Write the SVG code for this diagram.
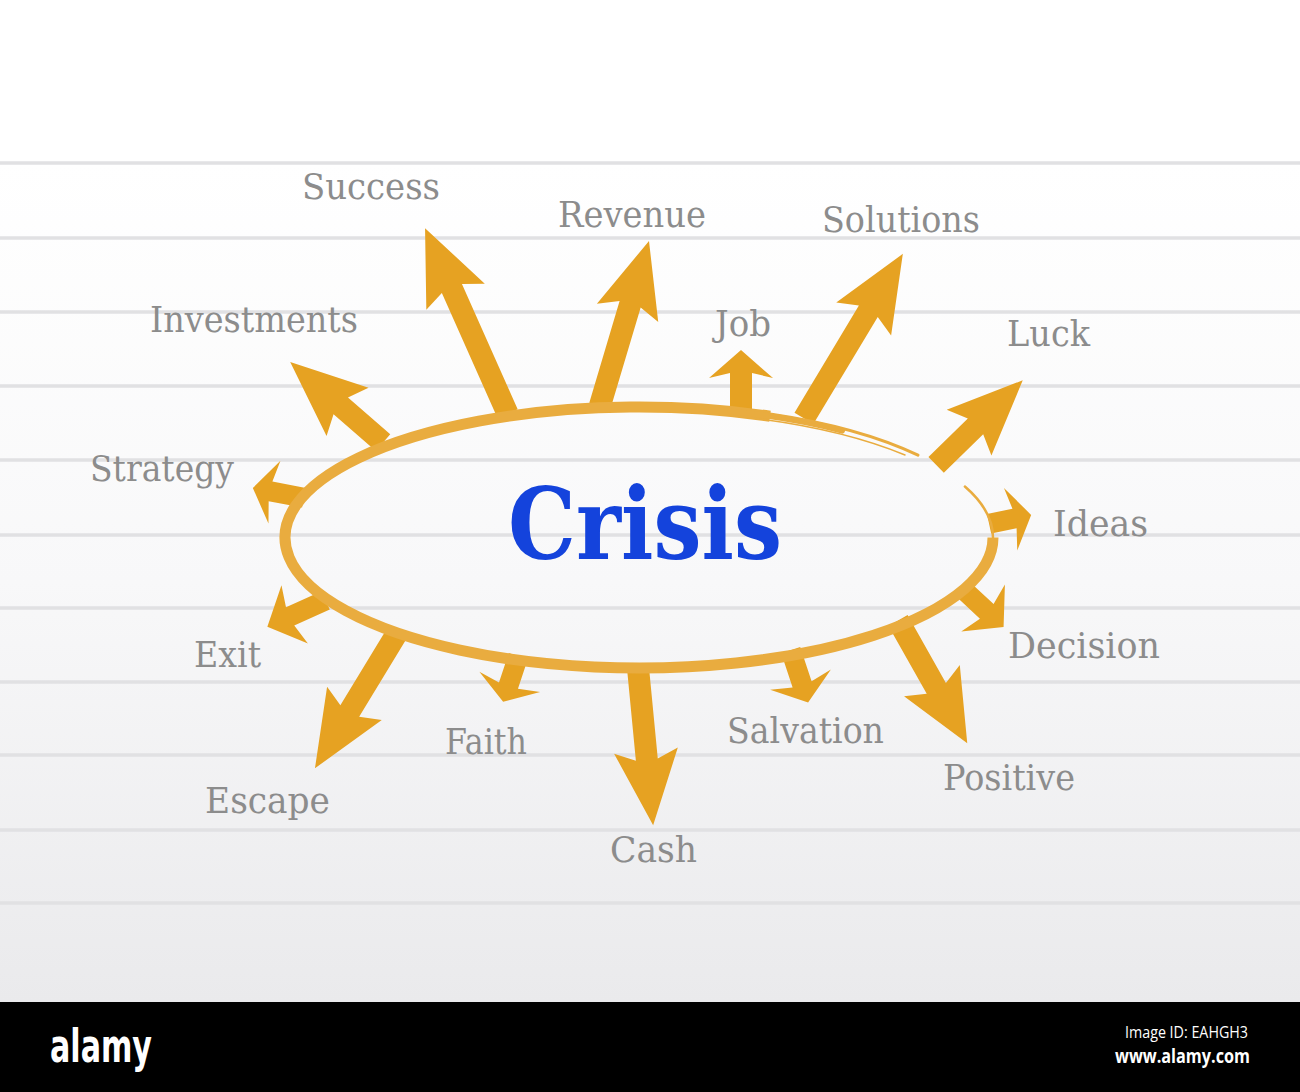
<svg xmlns="http://www.w3.org/2000/svg" width="1300" height="1092" viewBox="0 0 1300 1092">
  <defs>
    <linearGradient id="paper" x1="0" y1="0" x2="0" y2="1">
      <stop offset="0" stop-color="#ffffff"/>
      <stop offset="0.5" stop-color="#f8f8f9"/>
      <stop offset="1" stop-color="#eaeaec"/>
    </linearGradient>
    <style>
      .rule { stroke: #e1e1e3; stroke-width: 3.5; }
      .arrow { fill: #e6a222; }
      .ring { fill: none; stroke: #e9ac3f; stroke-width: 11; }
      .ringThin { fill: none; stroke: #e9ac3f; stroke-linecap: round; }
      .lbl { font-family: "DejaVu Serif", "Liberation Serif", serif; font-size: 35px; fill: #8c8c8c; }
      .title { font-family: "DejaVu Serif", "Liberation Serif", serif; font-weight: bold; font-size: 99px; fill: #1443dc; }
    </style>
  </defs>

  <rect x="0" y="0" width="1300" height="1092" fill="#ffffff"/>
  <rect x="0" y="162" width="1300" height="840" fill="url(#paper)"/>

  <g id="rules">
    <line class="rule" x1="0" y1="163" x2="1300" y2="163"/>
    <line class="rule" x1="0" y1="238" x2="1300" y2="238"/>
    <line class="rule" x1="0" y1="312" x2="1300" y2="312"/>
    <line class="rule" x1="0" y1="386" x2="1300" y2="386"/>
    <line class="rule" x1="0" y1="460" x2="1300" y2="460"/>
    <line class="rule" x1="0" y1="535" x2="1300" y2="535"/>
    <line class="rule" x1="0" y1="608" x2="1300" y2="608"/>
    <line class="rule" x1="0" y1="682" x2="1300" y2="682"/>
    <line class="rule" x1="0" y1="755" x2="1300" y2="755"/>
    <line class="rule" x1="0" y1="830" x2="1300" y2="830"/>
    <line class="rule" x1="0" y1="903" x2="1300" y2="903"/>
  </g>

  <g id="connectors">
    <polygon class="arrow" transform="translate(506,410) rotate(-24)" points="-11,4 -11,-133 -32,-124 0,-199 32,-124 11,-133 11,4"/>
    <polygon class="arrow" transform="translate(601,402) rotate(16.6)" points="-11,4 -11,-102 -32,-93 0,-168 32,-93 11,-102 11,4"/>
    <polygon class="arrow" transform="translate(741,405) rotate(0)" points="-11,4 -11,-32 -32,-27 0,-55 32,-27 11,-32 11,4"/>
    <polygon class="arrow" transform="translate(806,415) rotate(31)" points="-11,4 -11,-121 -32,-112 0,-188 32,-112 11,-121 11,4"/>
    <polygon class="arrow" transform="translate(939,462) rotate(45.7)" points="-11,4 -11,-51 -32,-42 0,-117 32,-42 11,-51 11,4"/>
    <polygon class="arrow" transform="translate(993,523) rotate(78)" points="-10,4 -10,-22 -32,-18 0,-39 32,-18 10,-22 10,4"/>
    <polygon class="arrow" transform="translate(967,593) rotate(133)" points="-10,4 -10,-27 -32,-22 0,-50 32,-22 10,-27 10,4"/>
    <polygon class="arrow" transform="translate(900,624) rotate(150.6)" points="-11,4 -11,-74 -32,-65 0,-137 32,-65 11,-74 11,4"/>
    <polygon class="arrow" transform="translate(792,654) rotate(161.6)" points="-10,4 -10,-32 -32,-27 0,-51 32,-27 10,-32 10,4"/>
    <polygon class="arrow" transform="translate(638,668) rotate(174.5)" points="-11,4 -11,-92 -32,-83 0,-158 32,-83 11,-92 11,4"/>
    <polygon class="arrow" transform="translate(517,660) rotate(198.4)" points="-10,4 -10,-27 -32,-23 0,-44 32,-23 10,-27 10,4"/>
    <polygon class="arrow" transform="translate(396,635) rotate(211.3)" points="-11,4 -11,-89 -32,-80 0,-156 32,-80 11,-89 11,4"/>
    <polygon class="arrow" transform="translate(322,602) rotate(245.6)" points="-10,4 -10,-35 -32,-30 0,-60 32,-30 10,-35 10,4"/>
    <polygon class="arrow" transform="translate(300,497) rotate(-79.2)" points="-10,4 -10,-30 -32,-26 0,-48 32,-26 10,-30 10,4"/>
    <polygon class="arrow" transform="translate(380,440) rotate(-49)" points="-11,4 -11,-52 -32,-43 0,-119 32,-43 11,-52 11,4"/>
  </g>

  <g id="crisis">
    <path class="ring" d="M 993 537.5 A 354 130.5 0 1 1 770 416.3"/>
    <path class="ringThin" stroke-width="6" d="M 730.6 411.4 A 354 130.5 0 0 1 842.1 430.6"/>
    <path class="ringThin" stroke-width="3" d="M 770 414 A 354 130.5 0 0 1 918 455.2"/>
    <path class="ringThin" stroke-width="1.5" d="M 760 419 A 354 130.5 0 0 1 905 455"/>
    <path class="ringThin" stroke-width="2.5" d="M 964.9 486.5 A 354 130.5 0 0 1 993 537.5"/>
    <text class="title" x="508" y="559" textLength="274" lengthAdjust="spacingAndGlyphs">Crisis</text>
  </g>

  <g id="n-success"><text class="lbl" x="302" y="199" textLength="138" lengthAdjust="spacingAndGlyphs">Success</text></g>
  <g id="n-revenue"><text class="lbl" x="558" y="227" textLength="148" lengthAdjust="spacingAndGlyphs">Revenue</text></g>
  <g id="n-solutions"><text class="lbl" x="822" y="232" textLength="158" lengthAdjust="spacingAndGlyphs">Solutions</text></g>
  <g id="n-job"><text class="lbl" x="715" y="336" textLength="56" lengthAdjust="spacingAndGlyphs">Job</text></g>
  <g id="n-luck"><text class="lbl" x="1007" y="346" textLength="83" lengthAdjust="spacingAndGlyphs">Luck</text></g>
  <g id="n-investments"><text class="lbl" x="150" y="332" textLength="208" lengthAdjust="spacingAndGlyphs">Investments</text></g>
  <g id="n-strategy"><text class="lbl" x="90" y="481" textLength="144" lengthAdjust="spacingAndGlyphs">Strategy</text></g>
  <g id="n-ideas"><text class="lbl" x="1053" y="536" textLength="95" lengthAdjust="spacingAndGlyphs">Ideas</text></g>
  <g id="n-exit"><text class="lbl" x="194" y="667" textLength="67" lengthAdjust="spacingAndGlyphs">Exit</text></g>
  <g id="n-decision"><text class="lbl" x="1008" y="658" textLength="152" lengthAdjust="spacingAndGlyphs">Decision</text></g>
  <g id="n-positive"><text class="lbl" x="943" y="790" textLength="132" lengthAdjust="spacingAndGlyphs">Positive</text></g>
  <g id="n-salvation"><text class="lbl" x="727" y="743" textLength="157" lengthAdjust="spacingAndGlyphs">Salvation</text></g>
  <g id="n-faith"><text class="lbl" x="445" y="754" textLength="82" lengthAdjust="spacingAndGlyphs">Faith</text></g>
  <g id="n-escape"><text class="lbl" x="205" y="813" textLength="125" lengthAdjust="spacingAndGlyphs">Escape</text></g>
  <g id="n-cash"><text class="lbl" x="610" y="862" textLength="87" lengthAdjust="spacingAndGlyphs">Cash</text></g>

  <g id="footer">
    <rect x="0" y="1002" width="1300" height="90" fill="#000000"/>
    <text x="50" y="1062" font-family="DejaVu Sans Condensed, DejaVu Sans, sans-serif" font-weight="bold" font-size="46" fill="#ffffff" textLength="102" lengthAdjust="spacingAndGlyphs">alamy</text>
    <text x="1125" y="1038" font-family="Open Sans, DejaVu Sans, sans-serif" font-size="16" fill="#ffffff" textLength="123" lengthAdjust="spacingAndGlyphs">Image ID: EAHGH3</text>
    <text x="1115" y="1063" font-family="Open Sans, DejaVu Sans, sans-serif" font-weight="bold" font-size="19" fill="#ffffff" textLength="135" lengthAdjust="spacingAndGlyphs">www.alamy.com</text>
  </g>
</svg>
